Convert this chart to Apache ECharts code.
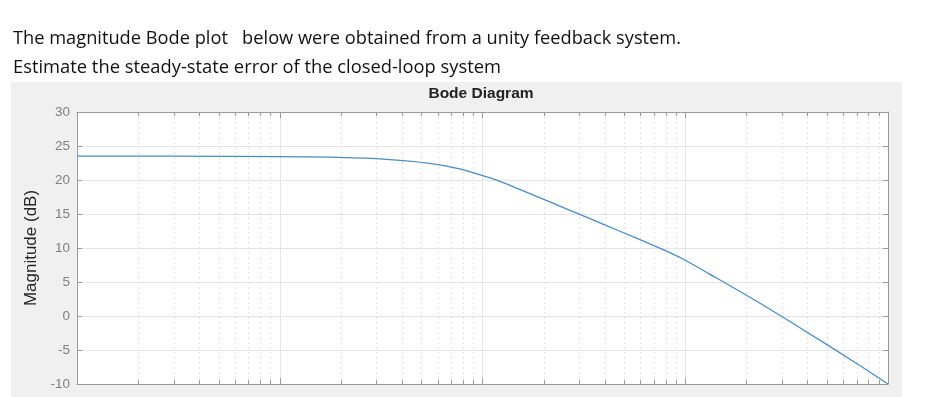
<!DOCTYPE html>
<html>
<head>
<meta charset="utf-8">
<script src="https://cdn.jsdelivr.net/npm/echarts@6/dist/echarts.min.js"></script>
<style>html,body{margin:0;padding:0;background:#fff}#c{width:926px;height:397px}</style>
</head>
<body>
<div id="c"></div>
<script>
// ---- data ----
const questionLines = [
  'The magnitude Bode plot   below were obtained from a unity feedback system.',
  'Estimate the steady-state error of the closed-loop system'
];
const chartTitle = 'Bode Diagram';
const yAxisTitle = 'Magnitude (dB)';
const freq = [1, 3, 10, 17.6, 31.1, 54.8, 77.1, 108, 125.5, 184.5, 268, 390, 574, 834, 1000, 1313, 2239, 3900, 7195, 10000];
const magDb = [23.52, 23.5, 23.45, 23.35, 23.1, 22.45, 21.65, 20.35, 19.65, 17.6, 15.58, 13.55, 11.45, 9.35, 8.2, 6.2, 2.2, -2.2, -7.2, -10];
const minorFreqs = [2,3,4,5,6,7,8,9, 20,30,40,50,60,70,80,90, 200,300,400,500,600,700,800,900, 2000,3000,4000,5000,6000,7000,8000,9000];
const yMin = -10, yMax = 30, yStep = 5;
const xMin = 1, xMax = 10000;

// ---- helpers ----
function fitScale(text, font, target) {
  const ctx = document.createElement('canvas').getContext('2d');
  ctx.font = font;
  return target / ctx.measureText(text).width;
}
const qFont = '19px "Open Sans"';
const s1 = fitScale(questionLines[0], qFont, 668);
const s2 = fitScale(questionLines[1], qFont, 488);

const axisGray = '#9a9a9a';
const gridGray = '#e4e4e4';
const helv = '"Liberation Sans", Arial, sans-serif';

const chart = echarts.init(document.getElementById('c'), null, {renderer: 'canvas'});
chart.setOption({
  backgroundColor: '#ffffff',
  animation: false,
  graphic: [
    {type: 'rect', z: -20, shape: {x: 11, y: 82, width: 891, height: 320}, style: {fill: '#f0f0f0'}},
    {type: 'rect', z: -19, shape: {x: 77, y: 112, width: 811, height: 272}, style: {fill: '#ffffff'}},
    {type: 'text', x: 13, y: 29, scaleX: s1, style: {text: questionLines[0], font: qFont, fill: '#111', textBaseline: 'alphabetic'}},
    {type: 'text', x: 13, y: 58, scaleX: s2, style: {text: questionLines[1], font: qFont, fill: '#111', textBaseline: 'alphabetic'}},
    {type: 'text', x: 481, y: 94, style: {text: chartTitle, font: 'bold 15.5px ' + helv, fill: '#222', textAlign: 'center', textVerticalAlign: 'middle'}}
  ],
  grid: {left: 77, right: 38, top: 112, bottom: 13, containLabel: false},
  xAxis: [
    {type: 'log', logBase: 10, min: xMin, max: xMax, position: 'bottom',
     axisLine: {show: true, onZero: false, lineStyle: {color: axisGray, width: 1}},
     axisTick: {show: true, inside: true, length: 6, lineStyle: {color: axisGray}},
     axisLabel: {show: false},
     splitLine: {show: true, lineStyle: {color: gridGray, width: 1}}},
    {type: 'log', logBase: 10, min: xMin, max: xMax, position: 'top',
     axisLine: {show: true, onZero: false, lineStyle: {color: axisGray, width: 1}},
     axisTick: {show: true, inside: true, length: 6, lineStyle: {color: axisGray}},
     axisLabel: {show: false},
     splitLine: {show: false}}
  ],
  yAxis: [
    {type: 'value', min: yMin, max: yMax, interval: yStep, position: 'left',
     name: yAxisTitle, nameLocation: 'middle', nameGap: 32,
     nameTextStyle: {fontSize: 17, color: '#262626', fontFamily: helv},
     axisLine: {show: true, onZero: false, lineStyle: {color: axisGray, width: 1}},
     axisTick: {show: true, inside: true, length: 5, lineStyle: {color: axisGray}},
     axisLabel: {show: true, color: '#808080', fontSize: 13.5, margin: 7, fontFamily: helv},
     splitLine: {show: true, lineStyle: {color: gridGray, width: 1}}},
    {type: 'value', min: yMin, max: yMax, interval: yStep, position: 'right',
     axisLine: {show: true, onZero: false, lineStyle: {color: axisGray, width: 1}},
     axisTick: {show: true, inside: true, length: 5, lineStyle: {color: axisGray}},
     axisLabel: {show: false},
     splitLine: {show: false}}
  ],
  series: [
    {
      type: 'custom', xAxisIndex: 0, yAxisIndex: 0, silent: true, clip: false, z: 1,
      data: minorFreqs.map(f => [f, 0]),
      encode: {x: 0, y: 1},
      renderItem: function (params, api) {
        const v = api.value(0);
        const top = api.coord([v, yMax]);
        const bot = api.coord([v, yMin]);
        const x = Math.round(top[0]) + 0.5;
        return {
          type: 'group',
          children: [
            {type: 'line', shape: {x1: x, y1: top[1], x2: x, y2: bot[1]},
             style: {stroke: '#e2e2e2', lineWidth: 1, lineDash: [2, 3]}},
            {type: 'line', shape: {x1: x, y1: bot[1], x2: x, y2: bot[1] - 4},
             style: {stroke: axisGray, lineWidth: 1}},
            {type: 'line', shape: {x1: x, y1: top[1], x2: x, y2: top[1] + 4},
             style: {stroke: axisGray, lineWidth: 1}}
          ]
        };
      }
    },
    {
      type: 'line', xAxisIndex: 0, yAxisIndex: 0, z: 5,
      data: freq.map((f, i) => [f, magDb[i]]),
      showSymbol: false, smooth: 0.25,
      lineStyle: {color: '#4a8cc4', width: 1.3}
    }
  ]
});
</script>
</body>
</html>
